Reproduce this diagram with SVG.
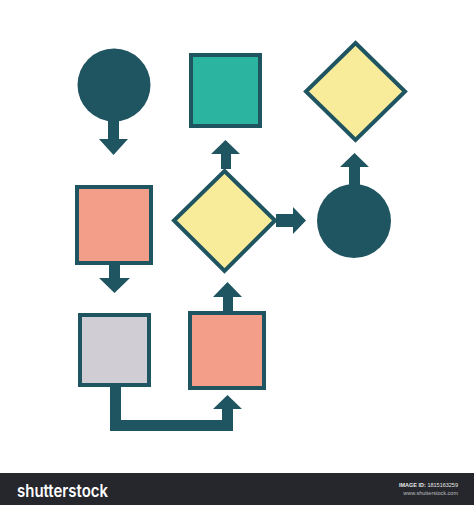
<svg xmlns="http://www.w3.org/2000/svg" width="474" height="505" viewBox="0 0 474 505">
<style>
.dk{fill:#1f5461}
.box{stroke:#1f5461;stroke-width:4}
.teal{fill:#2bb5a0}
.yel{fill:#f8ec9a}
.sal{fill:#f29e89}
.gry{fill:#d0cdd4}
.conn{fill:#1f5461;stroke:none}
</style>
<rect width="474" height="505" fill="#ffffff"/>
<g id="connectors">
  <polygon class="conn" points="108,118 119,118 119,139 128,139 113.5,155 99,139 108,139"/>
  <polygon class="conn" points="221,169 231,169 231,154 240,154 225.5,140 211,154 221,154"/>
  <polygon class="conn" points="276,214 293,214 293,207 306,220.5 293,234 293,227 276,227"/>
  <polygon class="conn" points="349,186 360,186 360,167 369,167 354.5,153 340,167 349,167"/>
  <polygon class="conn" points="109,264 120,264 120,278 130,278 114.5,293 99,278 109,278"/>
  <polygon class="conn" points="223,312 233,312 233,297 242,297 227.5,282 213,297 223,297"/>
  <polygon class="conn" points="110,386 121,386 121,420 222,420 222,409 213,409 227.5,395 242,409 233,409 233,431 110,431"/>
</g>
<g id="node-circle-start"><circle class="dk" cx="114" cy="85" r="36.5"/></g>
<g id="node-teal-square"><rect class="box teal" x="191" y="55" width="69" height="71"/></g>
<g id="node-diamond-top"><polygon class="box yel" points="355.5,43 405,91.5 355.5,140 306,91.5"/></g>
<g id="node-salmon-square-1"><rect class="box sal" x="77" y="187" width="74" height="76"/></g>
<g id="node-diamond-center"><polygon class="box yel" points="224.5,171 275,220.5 224.5,271 174,220.5"/></g>
<g id="node-circle-end"><circle class="dk" cx="354" cy="221" r="37"/></g>
<g id="node-gray-square"><rect class="box gry" x="80" y="315" width="69" height="70"/></g>
<g id="node-salmon-square-2"><rect class="box sal" x="190" y="313" width="74" height="75"/></g>
<g id="footer">
  <rect x="0" y="473" width="474" height="32" fill="#25272d"/>
  <text x="17" y="497" font-family="Inter, 'Liberation Sans', sans-serif" font-size="17" font-weight="600" fill="#ffffff" textLength="91" lengthAdjust="spacingAndGlyphs">shutterstock</text>
  <text x="458" y="487" text-anchor="end" font-family="'Liberation Sans', sans-serif" font-size="5.5" fill="#e6e6e6"><tspan font-weight="bold">IMAGE ID:</tspan> 1815163259</text>
  <text x="458" y="495" text-anchor="end" font-family="'Liberation Sans', sans-serif" font-size="5.5" fill="#bfbfbf">www.shutterstock.com</text>
</g>
</svg>
